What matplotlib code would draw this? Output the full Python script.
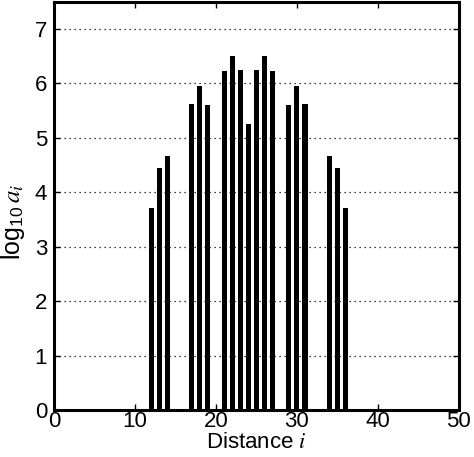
import numpy as np
import matplotlib.pyplot as plt

plt.rcParams['font.family'] = ['Liberation Sans', 'DejaVu Sans']
plt.rcParams['mathtext.fontset'] = 'custom'
plt.rcParams['mathtext.rm'] = 'Liberation Sans'
plt.rcParams['mathtext.it'] = 'STIXGeneral:italic'

# distances with non-zero coefficients and their log10 values
distance = [12, 13, 14, 17, 18, 19, 21, 22, 23, 24, 25, 26, 27, 29, 30, 31, 34, 35, 36]
log_a = [3.72, 4.45, 4.67, 5.62, 5.96, 5.60, 6.22, 6.50, 6.25, 5.25, 6.25, 6.50, 6.22,
         5.60, 5.96, 5.62, 4.67, 4.45, 3.72]
x_ticks = [0, 10, 20, 30, 40, 50]
y_ticks = [0, 1, 2, 3, 4, 5, 6, 7]

fig = plt.figure(figsize=(4.74, 4.57), dpi=100)
ax = fig.add_axes([0.114, 0.103, 0.854, 0.893])

ax.bar(distance, log_a, width=0.62, color='black', zorder=3)

ax.set_xlim(0, 50)
ax.set_ylim(0, 7.5)
ax.set_xticks(x_ticks)
ax.set_yticks(y_ticks)
for y in y_ticks[1:]:
    ax.axhline(y, color='black', linestyle=(0, (1, 3)), linewidth=0.9, zorder=1)

ax.tick_params(direction='in', length=4, width=1, labelsize=16, top=True, right=True)
ax.tick_params(axis='x', pad=1)
ax.tick_params(axis='y', pad=5)
for s in ax.spines.values():
    s.set_linewidth(2.2)

ax.set_xlabel(r'Distance $i$', fontsize=16, labelpad=0)
ax.set_ylabel(r'log$_{\mathrm{10}}\,a_i$', fontsize=18, labelpad=0)
ax.yaxis.set_label_coords(-0.066, 0.46)

fig.savefig('out.png', dpi=100)
